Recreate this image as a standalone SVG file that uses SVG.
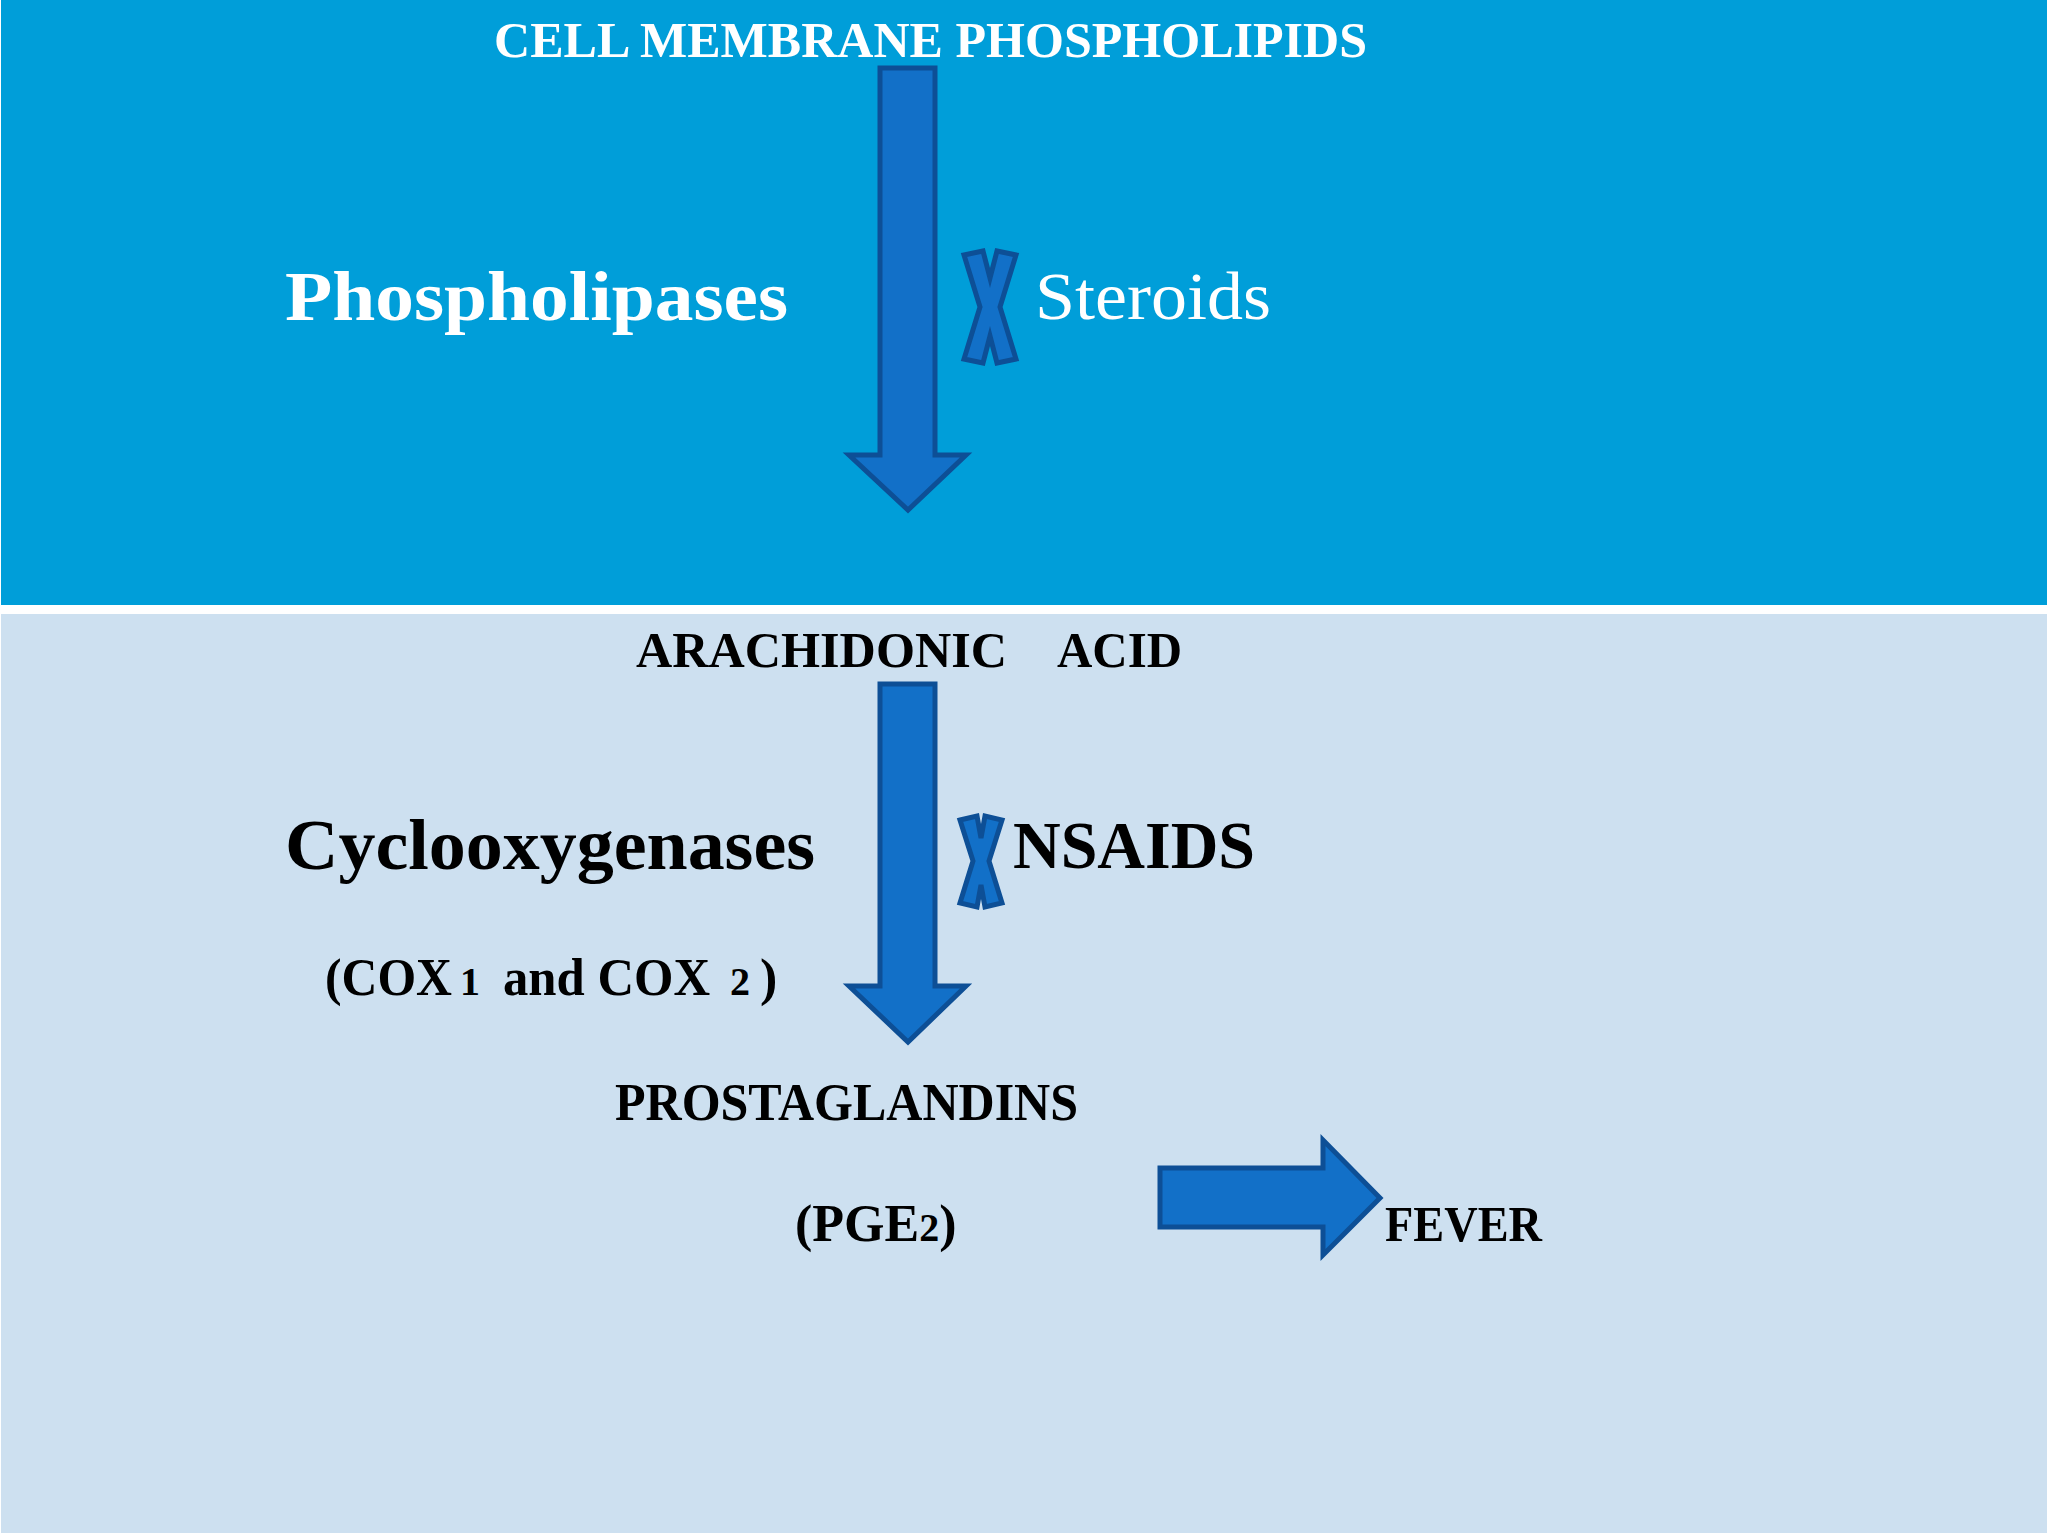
<svg xmlns="http://www.w3.org/2000/svg" width="2048" height="1536" viewBox="0 0 2048 1536">
<defs>
<style>
.arrow{fill:#1270c8;stroke:#0d4f96;stroke-width:5;stroke-linejoin:miter}
.x{fill:#1270c8;stroke:#0d4f96;stroke-width:5;stroke-linejoin:miter}
.w{fill:#ffffff;font-family:"Liberation Serif","DejaVu Serif",serif}
.b{fill:#000000;font-family:"Liberation Serif","DejaVu Serif",serif;font-weight:bold}
</style>
</defs>
<rect width="2048" height="1536" fill="#ffffff"/>
<g id="panel-top"><rect x="1" y="0" width="2046" height="605" fill="#009ed9"/></g>
<g id="panel-bottom"><rect x="1" y="614" width="2046" height="919" fill="#cde0f0"/></g>

<g id="connectors">
<polygon class="arrow" points="880,68 935,68 935,455 966,455 908,510 849,455 880,455"/>
<polygon class="arrow" points="880,684 935,684 935,986 966,986 908,1042 849,986 880,986"/>
<polygon class="arrow" points="1160,1168 1323,1168 1323,1140 1380,1198 1323,1255 1323,1227 1160,1227"/>
</g>

<g id="node-cell-membrane"><text class="w" x="494" y="57" font-size="50" font-weight="bold" textLength="873" lengthAdjust="spacingAndGlyphs">CELL MEMBRANE PHOSPHOLIPIDS</text></g>
<g id="node-phospholipases"><text class="w" x="285" y="320" font-size="70" font-weight="bold" textLength="503" lengthAdjust="spacingAndGlyphs">Phospholipases</text></g>
<g id="node-steroids">
<polygon class="x" points="964,255 983,251 990,278 997,251 1016,255 1000,307 1016,359 997,363 990,336 983,363 964,359 980,307"/>
<text class="w" x="1035" y="319" font-size="68" textLength="236" lengthAdjust="spacingAndGlyphs">Steroids</text>
</g>
<g id="node-arachidonic"><text class="b" y="667" font-size="50"><tspan x="636" textLength="371" lengthAdjust="spacingAndGlyphs">ARACHIDONIC</tspan><tspan x="1057" textLength="125" lengthAdjust="spacingAndGlyphs">ACID</tspan></text></g>
<g id="node-cyclooxygenases"><text class="b" x="285" y="869" font-size="72" textLength="530" lengthAdjust="spacingAndGlyphs">Cyclooxygenases</text></g>
<g id="node-cox"><text class="b" y="995" font-size="52"><tspan x="325" textLength="127" lengthAdjust="spacingAndGlyphs">(COX</tspan><tspan x="460" font-size="40">1</tspan><tspan x="503" textLength="207" lengthAdjust="spacingAndGlyphs">and COX</tspan><tspan x="730" font-size="40">2</tspan><tspan x="760">)</tspan></text></g>
<g id="node-nsaids">
<polygon class="x" points="960,820 977,816 981,838 985,816 1002,820 989,861 1002,903 985,907 981,885 977,907 960,903 973,861"/>
<text class="b" x="1013" y="868" font-size="68" textLength="242" lengthAdjust="spacingAndGlyphs">NSAIDS</text>
</g>
<g id="node-prostaglandins"><text class="b" x="615" y="1120" font-size="52" textLength="463" lengthAdjust="spacingAndGlyphs">PROSTAGLANDINS</text></g>
<g id="node-pge2"><text class="b" y="1241" font-size="52"><tspan x="795">(PGE</tspan><tspan font-size="40">2</tspan><tspan>)</tspan></text></g>
<g id="node-fever"><text class="b" x="1385" y="1241" font-size="50" textLength="157" lengthAdjust="spacingAndGlyphs">FEVER</text></g>
</svg>
